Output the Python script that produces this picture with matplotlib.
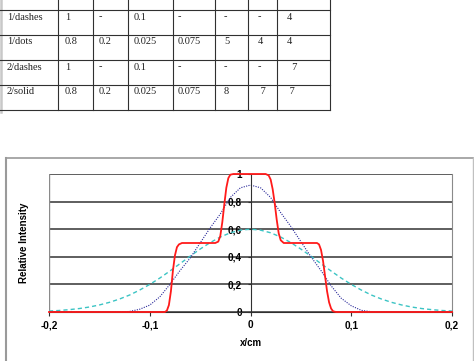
import matplotlib
matplotlib.use("Agg")
import matplotlib.pyplot as plt
from matplotlib.lines import Line2D

# table above the chart (rows of the parameter table)
table_rows = [
    ["1/dashes", "1", "-", "0.1", "-", "-", "-", "4"],
    ["1/dots", "0.8", "0.2", "0.025", "0.075", "5", "4", "4"],
    ["2/dashes", "1", "-", "0.1", "-", "-", "-", "  7"],
    ["2/solid", "0.8", "0.2", "0.025", "0.075", "8", " 7", " 7"],
]

# chart data
x_red = [-0.2, -0.085, -0.083, -0.081, -0.079, -0.077, -0.075, -0.073, -0.071, -0.068,
         -0.035, -0.032, -0.030, -0.028, -0.026, -0.024, -0.022, -0.020, -0.017,
         0.015, 0.018, 0.020, 0.022, 0.024, 0.026, 0.028, 0.030, 0.033,
         0.066, 0.068, 0.070, 0.072, 0.074, 0.076, 0.078, 0.080, 0.082, 0.085, 0.2]
y_red = [0, 0, 0.01, 0.05, 0.15, 0.3, 0.41, 0.47, 0.49, 0.5,
         0.5, 0.51, 0.55, 0.65, 0.78, 0.9, 0.97, 0.995, 1,
         1, 0.99, 0.96, 0.89, 0.79, 0.67, 0.57, 0.52, 0.5,
         0.5, 0.49, 0.45, 0.37, 0.26, 0.15, 0.07, 0.025, 0.005, 0, 0]

x_blue = [-0.2, -0.13, -0.12, -0.11, -0.10, -0.09, -0.08, -0.07, -0.06, -0.05, -0.04,
          -0.03, -0.02, -0.01, 0, 0.01, 0.02, 0.03, 0.04, 0.05, 0.06, 0.07, 0.08,
          0.09, 0.10, 0.11, 0.12, 0.13, 0.2]
y_blue = [0, 0, 0.004, 0.02, 0.05, 0.11, 0.2, 0.3, 0.39, 0.5, 0.61,
          0.71, 0.83, 0.9, 0.92, 0.9, 0.83, 0.72, 0.62, 0.51, 0.4, 0.3, 0.19,
          0.1, 0.045, 0.012, 0.002, 0, 0]

x_cyan = [-0.20, -0.19, -0.18, -0.17, -0.16, -0.15, -0.14, -0.13, -0.12, -0.11, -0.10,
          -0.09, -0.08, -0.07, -0.06, -0.05, -0.04, -0.03, -0.02, -0.01, 0.0,
          0.01, 0.02, 0.03, 0.04, 0.05, 0.06, 0.07, 0.08, 0.09, 0.10,
          0.11, 0.12, 0.13, 0.14, 0.15, 0.16, 0.17, 0.18, 0.19, 0.20]
y_cyan = [0.007, 0.011, 0.017, 0.025, 0.036, 0.051, 0.070, 0.094, 0.123, 0.159, 0.200,
          0.246, 0.297, 0.350, 0.404, 0.456, 0.503, 0.543, 0.574, 0.593, 0.600,
          0.593, 0.574, 0.543, 0.503, 0.456, 0.404, 0.350, 0.297, 0.246, 0.200,
          0.159, 0.123, 0.094, 0.070, 0.051, 0.036, 0.025, 0.017, 0.011, 0.007]

x_ticks = [-0.2, -0.1, 0, 0.1, 0.2]
x_labels = ["-0,2", "-0,1", "0", "0,1", "0,2"]
y_ticks = [0, 0.2, 0.4, 0.6, 0.8, 1.0]
y_labels = ["0", "0,2", "0,4", "0,6", "0,8", "1"]

W, H = 474, 361
fig = plt.figure(figsize=(W / 100, H / 100), dpi=100)


def fx(px):
    return px / W


def fy(py):
    return 1 - py / H


def fline(x0, y0, x1, y1, color="#303030", lw=0.8):
    fig.add_artist(Line2D([fx(x0), fx(x1)], [fy(y0), fy(y1)], color=color, lw=lw))


# --- table ---
col_x = [0, 58, 93, 128, 173, 215, 248, 277, 330]
row_y = [10, 35, 60, 85, 110]
text_x = [7, 65, 99, 134, 178, 224, 258, 287]
fline(1, 0, 1, 112, color="#c8c8c8", lw=1.8)
for yy in row_y:
    fline(0, yy, 330, yy)
for xx in col_x[1:]:
    fline(xx, 0, xx, 110)
for i, row in enumerate(table_rows):
    for j, s in enumerate(row):
        fig.text(fx(text_x[j]), fy(row_y[i] + 7), s, ha="left", va="center",
                 family="Liberation Serif", fontsize=7.5, color="#222222")

# --- chart frame ---
fline(6, 158, 473, 158, color="#9a9a9a", lw=1.2)
fline(6, 158, 6, 361, color="#9a9a9a", lw=1.5)
fline(472.5, 158, 472.5, 361, color="#c0c0c0", lw=1.0)

ax = fig.add_axes([fx(49), 1 - 312 / H, 403 / W, 138 / H])
ax.set_xlim(-0.2, 0.2)
ax.set_ylim(0, 1)

ax.yaxis.grid(True, color="#333333", lw=1.1)
ax.set_axisbelow(True)
ax.axvline(-0.2, color="#8a8a8a", lw=1.0)

ax.plot(x_cyan, y_cyan, color="#3cc4c4", lw=1.0, ls=(0, (3, 2.2)), clip_on=False)
ax.plot(x_blue, y_blue, color="#2a2a9a", lw=0.8, ls=(0, (1, 1.2)), clip_on=False)
ax.plot(x_red, y_red, color="#ff1a1a", lw=1.3, clip_on=False, zorder=5)

ax.spines["top"].set_visible(False)
ax.spines["right"].set_color("#8a8a8a")
ax.spines["left"].set_position(("data", 0))
ax.spines["left"].set_color("#303030")
ax.spines["bottom"].set_color("#303030")

ax.set_xticks(x_ticks)
ax.set_xticklabels(x_labels)
ax.set_yticks(y_ticks)
ax.set_yticklabels(y_labels)
ax.tick_params(axis="x", direction="out", length=3, pad=3, color="#303030")
ax.tick_params(axis="y", direction="out", length=2, pad=4, color="#303030")
for lab in ax.get_xticklabels() + ax.get_yticklabels():
    lab.set_family("Liberation Sans")
    lab.set_fontweight("bold")
    lab.set_fontsize(7.2)

ax.set_xlabel("x/cm", family="Liberation Sans", fontweight="bold", fontsize=7)
ax.xaxis.set_label_coords(0.5, -(338 - 312) / 138)
ax.set_ylabel("Relative Intensity", family="Liberation Sans", fontweight="bold", fontsize=7)
ax.yaxis.set_label_coords((29 - 49) / 403, 0.5)

fig.savefig("out.png", dpi=100)
